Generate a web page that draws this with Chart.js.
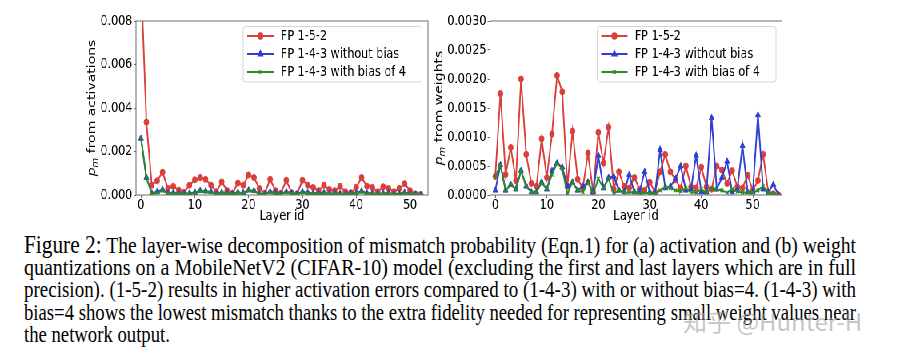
<!DOCTYPE html>
<html>
<head>
<meta charset="utf-8">
<script src="https://cdn.jsdelivr.net/npm/chart.js@4.4.0/dist/chart.umd.min.js"></script>
<style>
  html, body { margin: 0; padding: 0; background: #fff; }
  body { width: 906px; height: 352px; overflow: hidden; position: relative; }
  #plots { position: absolute; left: 0; top: 0; width: 1133px; height: 230px;
           transform: scaleX(0.8); transform-origin: 0 0; }
  #plots canvas { position: absolute; top: 0; }
  #caption { position: absolute; left: 24px; top: 234px; width: 832px;
             font-family: "Liberation Serif", serif; font-size: 22.5px; line-height: 22.5px; color: #000; }
  #caption .ln { white-space: nowrap; height: 22.5px; }
  #caption .ln span.t { display: inline-block; transform-origin: 0 50%; }
  #caption .fig { font-size: 24.5px; }
  #mark { position: absolute; left: 683px; top: 303px; font-family: "Noto Sans CJK SC", sans-serif;
          font-size: 24px; color: rgba(160,160,160,0.6); white-space: nowrap; }
</style>
</head>
<body>
<div id="plots">
  <canvas id="act" width="566" height="225" style="left:0px"></canvas>
  <canvas id="wt" width="733" height="225" style="left:400px"></canvas>
</div>
<div id="caption">
  <div class="ln"><span class="t"><span class="fig">Figure 2:</span> The layer-wise decomposition of mismatch probability (Eqn.1) for (a) activation and (b) weight</span></div>
  <div class="ln"><span class="t">quantizations on a MobileNetV2 (CIFAR-10) model (excluding the first and last layers which are in full</span></div>
  <div class="ln"><span class="t">precision). (1-5-2) results in higher activation errors compared to (1-4-3) with or without bias=4. (1-4-3) with</span></div>
  <div class="ln"><span class="t">bias=4 shows the lowest mismatch thanks to the extra fidelity needed for representing small weight values near</span></div>
  <div class="ln"><span class="t">the network output.</span></div>
</div>
<div id="mark">知乎 @Hunter-H</div>
<script>
// series names
const seriesNames = ["FP 1-5-2", "FP 1-4-3 without bias", "FP 1-4-3 with bias of 4"];

// (a) mismatch probability from activations, layer 0..52
const actRed = [0.0100, 0.00335, 0.00045, 0.00065, 0.00105, 0.00030, 0.00040, 0.00022, 0.00012, 0.00045,
  0.00070, 0.00080, 0.00072, 0.00045, 0.00015, 0.00060, 0.00020, 0.00008, 0.00055, 0.00045,
  0.00092, 0.00080, 0.00030, 0.00008, 0.00072, 0.00020, 0.00008, 0.00068, 0.00010, 0.00005,
  0.00068, 0.00045, 0.00035, 0.00020, 0.00045, 0.00025, 0.00020, 0.00040, 0.00015, 0.00010,
  0.00035, 0.00080, 0.00040, 0.00035, 0.00015, 0.00038, 0.00030, 0.00015, 0.00030, 0.00052,
  0.00020, 0.00005, 0.00002];
const actBlue = [0.0026, 0.0008, 0.00008, 0.00015, 0.00025, 0.00008, 0.0001, 0.00008, 0.00005, 0.00008,
  0.00012, 0.0002, 0.00018, 0.00015, 0.00005, 0.00012, 0.0001, 0.00005, 0.00012, 0.0001,
  0.00022, 0.0002, 0.00005, 0.00005, 0.00015, 0.0001, 0.00005, 0.00015, 0.00008, 0.00005,
  0.00015, 0.0001, 0.00008, 0.00008, 0.0001, 0.00006, 0.00008, 0.00006, 0.00004, 0.00008,
  0.00008, 0.00018, 0.00008, 0.00008, 0.00005, 0.00008, 0.00008, 0.00005, 0.00006, 0.00012,
  0.00006, 0.00002, 0.00001];
const actGreen = [0.0026, 0.0008, 0.00005, 0.0001, 0.0002, 0.00006, 0.00008, 0.00006, 0.00004, 0.00006,
  0.0001, 0.00018, 0.00016, 0.00012, 0.00004, 0.0001, 0.00008, 0.00004, 0.0001, 0.00008,
  0.0002, 0.00018, 0.00004, 0.00004, 0.00012, 0.00008, 0.00004, 0.00012, 0.00006, 0.00004,
  0.00012, 0.00008, 0.00006, 0.00006, 0.00008, 0.00005, 0.00006, 0.00005, 0.00003, 0.00006,
  0.00006, 0.00015, 0.00006, 0.00006, 0.00004, 0.00006, 0.00006, 0.00004, 0.00005, 0.0001,
  0.00005, 0.00002, 0.00001];

// (b) mismatch probability from weights, layer 0..55
const wtRed = [0.00032, 0.00175, 0.00035, 0.00082, 0.00025, 0.0020, 0.0007, 0.0002, 0.00015, 0.00097,
  0.0003, 0.00105, 0.00206, 0.00178, 0.00015, 0.0011, 0.00027, 0.00012, 0.00072, 0.00005,
  0.00108, 0.00055, 0.00117, 0.0001, 0.0004, 0.00015, 0.00012, 0.0003, 0.0001, 0.00008,
  0.00022, 0.00005, 0.0004, 0.0007, 0.0004, 0.00026, 0.00012, 0.0005, 0.00014, 0.00012,
  0.00048, 0.00014, 0.0001, 0.0005, 0.00043, 0.0002, 0.00042, 0.00014, 0.00012, 0.00034,
  0.00008, 0.00025, 0.0007, 0.00005, 0.00002, 0.0];
const wtBlue = [0.00008, 0.00052, 0.00008, 0.00018, 0.0001, 0.00042, 0.00015, 0.00005, 0.00005, 0.00022,
  0.0001, 0.00042, 0.00055, 0.00048, 0.00015, 0.00022, 0.00008, 0.00015, 0.00022, 0.00005,
  0.00068, 0.00012, 0.0003, 0.00032, 0.00008, 0.00005, 0.00035, 0.00005, 0.00005, 0.0004,
  0.00005, 0.00002, 0.00078, 0.00012, 0.00015, 0.00028, 0.0005, 0.00008, 0.0001, 0.00068,
  0.00005, 0.00005, 0.00133, 0.0001, 0.0003, 0.00058, 0.00005, 0.0001, 0.00085, 0.00005,
  0.00005, 0.00138, 0.0001, 0.00005, 0.00018, 0.0];
const wtGreen = [0.00032, 0.00052, 0.00008, 0.00018, 0.0001, 0.00042, 0.00015, 0.00005, 0.00005, 0.00022,
  0.0001, 0.00035, 0.00055, 0.00045, 0.00002, 0.00022, 0.00008, 0.00005, 0.00022, 0.00002,
  0.00028, 0.00012, 0.00028, 0.00002, 0.00008, 0.00005, 0.00004, 0.00006, 0.00003, 0.00004,
  0.00003, 0.00002, 0.00008, 0.00014, 0.00012, 0.00008, 0.00006, 0.00012, 0.00005, 0.00004,
  0.0001, 0.00004, 0.00012, 0.0001, 0.00008, 0.00004, 0.0001, 0.00006, 0.00004, 0.00005,
  0.00004, 0.00008, 0.00015, 0.00004, 0.00002, 0.0];

// tick labels
const xTicks = [0, 10, 20, 30, 40, 50];
const actYTicks = [0, 0.002, 0.004, 0.006, 0.008];
const wtYTicks = [0, 0.0005, 0.001, 0.0015, 0.002, 0.0025, 0.003];

const RED = "#d9403a", BLUE = "#2f3fd2", GREEN = "#2c8a24";
const FONT = "DejaVu Sans";
const FS = 14;

const styles = [
  { color: RED, pointStyle: "circle", radius: 3, order: 3 },
  { color: BLUE, pointStyle: "triangle", radius: 3.5, order: 2 },
  { color: GREEN, pointStyle: "crossRot", radius: 2.7, order: 1 },
];

function toPoints(arr) {
  return arr.map((v, i) => ({ x: i, y: v }));
}

// frame, axis titles and legend in matplotlib style
const mplDecor = {
  id: "mplDecor",
  afterDraw(chart) {
    const o = chart.options.plugins.mplDecor;
    const ctx = chart.ctx;
    const a = chart.chartArea;
    ctx.save();
    ctx.strokeStyle = "#6e6e6e";
    ctx.lineWidth = 1;
    ctx.strokeRect(a.left, a.top, a.right - a.left, a.bottom - a.top);

    // x title
    ctx.fillStyle = "#000";
    ctx.font = FS + "px " + FONT;
    ctx.textAlign = "center";
    ctx.textBaseline = "middle";
    ctx.fillText("Layer id", (a.left + a.right) / 2, 216.5);

    // y title: p_m + text
    ctx.save();
    ctx.translate(o.yTitleX, (a.top + a.bottom) / 2);
    ctx.rotate(-Math.PI / 2);
    ctx.textAlign = "left";
    ctx.textBaseline = "middle";
    const rest = " from " + o.yTitle;
    ctx.font = "italic " + FS + "px " + FONT;
    const wp = ctx.measureText("p").width;
    ctx.font = "italic 10px " + FONT;
    const wm = ctx.measureText("m").width;
    ctx.font = FS + "px " + FONT;
    const wr = ctx.measureText(rest).width;
    let x = -(wp + wm + wr) / 2;
    ctx.font = "italic " + FS + "px " + FONT;
    ctx.fillText("p", x, 0);
    x += wp;
    ctx.font = "italic 10px " + FONT;
    ctx.fillText("m", x, 3.5);
    x += wm;
    ctx.font = FS + "px " + FONT;
    ctx.fillText(rest, x, 0);
    ctx.restore();

    // legend box
    const bx = a.right - 231, by = a.top + 5.5, bw = 223.5, bh = 55.5;
    ctx.beginPath();
    ctx.roundRect(bx, by, bw, bh, 3);
    ctx.fillStyle = "rgba(255,255,255,0.85)";
    ctx.fill();
    ctx.strokeStyle = "#d4d4d4";
    ctx.stroke();
    const rows = [15, 33, 51];
    ctx.font = FS + "px " + FONT;
    ctx.textAlign = "left";
    ctx.textBaseline = "middle";
    seriesNames.forEach((name, i) => {
      const y = a.top + rows[i];
      const s = styles[i];
      ctx.strokeStyle = s.color;
      ctx.fillStyle = s.color;
      ctx.lineWidth = 2;
      ctx.beginPath();
      ctx.moveTo(bx + 5, y);
      ctx.lineTo(bx + 38, y);
      ctx.stroke();
      ctx.lineWidth = 1.3;
      Chart.helpers.drawPoint(ctx, { pointStyle: s.pointStyle, radius: s.radius, rotation: 0, borderWidth: 1.3 }, bx + 21.5, y);
      ctx.fillStyle = "#000";
      ctx.fillText(name, bx + 47, y + 0.5);
    });
    ctx.restore();
  },
};

function makeChart(id, series, yTicks, digits, opts) {
  const datasets = series.map((arr, i) => ({
    label: seriesNames[i],
    data: toPoints(arr),
    borderColor: styles[i].color,
    backgroundColor: styles[i].color,
    borderWidth: 1.9,
    pointStyle: styles[i].pointStyle,
    pointRadius: styles[i].radius,
    pointBorderWidth: i === 2 ? 1.3 : 1,
    pointBorderColor: styles[i].color,
    pointBackgroundColor: styles[i].color,
    tension: 0,
    order: styles[i].order,
  }));
  return new Chart(document.getElementById(id), {
    type: "line",
    data: { datasets },
    options: {
      responsive: false,
      animation: false,
      devicePixelRatio: 1,
      events: [],
      layout: { padding: { top: 21, right: opts.padRight, left: 0, bottom: 0 } },
      plugins: {
        legend: { display: false },
        tooltip: { enabled: false },
        mplDecor: { yTitle: opts.yTitle, yTitleX: opts.yTitleX },
      },
      scales: {
        x: {
          type: "linear",
          min: opts.xMin,
          max: opts.xMax,
          afterBuildTicks: (s) => { s.ticks = xTicks.map((v) => ({ value: v })); },
          afterFit: (s) => { s.height = 30; },
          border: { display: false },
          grid: { drawOnChartArea: false, drawTicks: true, tickLength: 3, color: "#6e6e6e" },
          ticks: { color: "#000", font: { family: FONT, size: FS }, padding: -1, maxRotation: 0 },
        },
        y: {
          min: 0,
          max: yTicks[yTicks.length - 1],
          afterBuildTicks: (s) => { s.ticks = yTicks.map((v) => ({ value: v })); },
          afterFit: (s) => { s.width = opts.yWidth; },
          border: { display: false },
          grid: { drawOnChartArea: false, drawTicks: true, tickLength: 3, color: "#6e6e6e" },
          ticks: { color: "#000", font: { family: FONT, size: FS }, padding: 1.5,
                   callback: (v) => Number(v).toFixed(digits) },
        },
      },
    },
    plugins: [mplDecor],
  });
}

makeChart("act", [actRed, actBlue, actGreen], actYTicks, 3,
  { xMin: -0.93, xMax: 53.34, padRight: 31, yWidth: 170, yTitle: "activations", yTitleX: 115.6 });
makeChart("wt", [wtRed, wtBlue, wtGreen], wtYTicks, 4,
  { xMin: -1.03, xMax: 55.67, padRight: 155.5, yWidth: 212.5, yTitle: "weights", yTitleX: 149.5 });

// fit caption lines to the justified column width
const lines = document.querySelectorAll("#caption .ln span.t");
let lastScale = 1;
lines.forEach((el, i) => {
  const w = el.getBoundingClientRect().width;
  if (i < lines.length - 1) lastScale = 832 / w;
  el.style.transform = "scaleX(" + lastScale + ")";
});
</script>
</body>
</html>
